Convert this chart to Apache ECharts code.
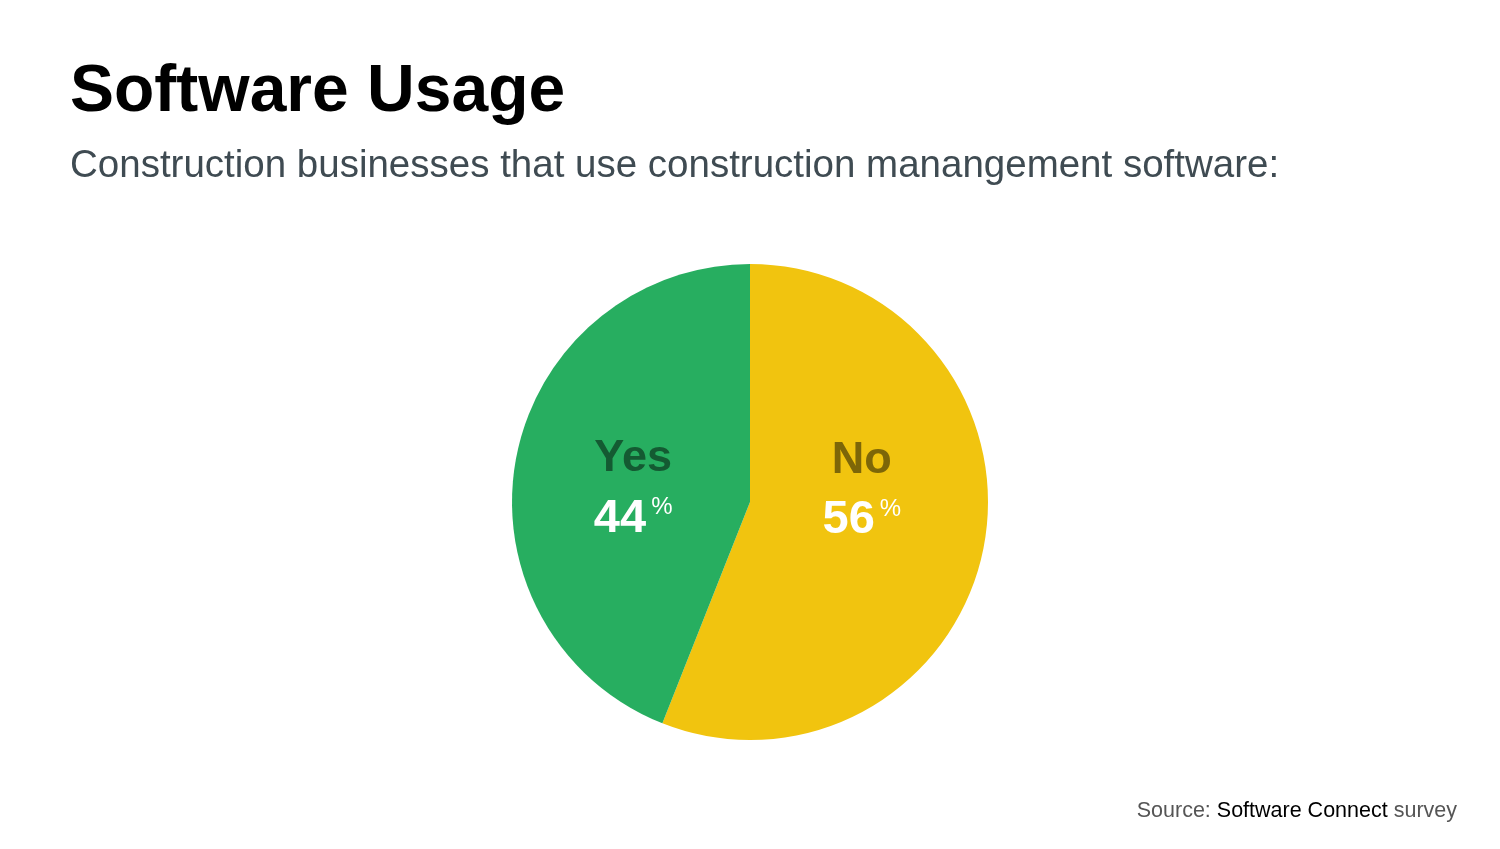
<!DOCTYPE html>
<html>
<head>
<meta charset="utf-8">
<title>Software Usage</title>
<script src="https://cdn.jsdelivr.net/npm/echarts@6/dist/echarts.min.js"></script>
<style>
  html, body { margin: 0; padding: 0; background: #fff; }
  #chart { width: 1500px; height: 849px; }
</style>
</head>
<body>
<div id="chart"></div>
<script>
var categories = ['No', 'Yes'];
var shares = [56, 44];
var sliceColors = ['#F1C40F', '#27AE60'];
var nameColors = ['#7D6608', '#145A32'];

function renderUsageChart(chartID) {
  var chartDom = document.getElementById(chartID);
  var myChart = echarts.init(chartDom);
  var font = '"Liberation Sans", Arial, Helvetica, sans-serif';

  var data = categories.map(function (c, i) {
    return {
      name: c,
      value: shares[i],
      itemStyle: { color: sliceColors[i] },
      label: {
        rich: {
          n: { fontFamily: font, fontSize: 45, fontWeight: 'bold', color: nameColors[i], padding: [0, 0, 14, 0] }
        }
      }
    };
  });

  var option = {
    backgroundColor: '#ffffff',
    title: [
      {
        text: 'Software Usage',
        left: 65,
        top: 55,
        textStyle: { fontFamily: font, fontSize: 66, fontWeight: 'bold', color: '#000' }
      },
      {
        text: 'Construction businesses that use construction manangement software:',
        left: 65,
        top: 142,
        textStyle: { fontFamily: font, fontSize: 38.5, fontWeight: 'normal', color: '#3f4b52' }
      },
      {
        text: '{g|Source: }{b|Software Connect}{g| survey}',
        right: 38,
        top: 795,
        textStyle: {
          fontWeight: 'normal',
          rich: {
            g: { fontFamily: font, fontSize: 21.5, fontWeight: 'normal', color: '#555' },
            b: { fontFamily: font, fontSize: 21.5, fontWeight: 'normal', color: '#000' }
          }
        }
      }
    ],
    series: [
      {
        name: 'Usage',
        type: 'pie',
        center: [750, 502],
        radius: 238,
        startAngle: 90,
        clockwise: true,
        silent: true,
        label: {
          show: true,
          position: 'inside',
          formatter: function (p) {
            return '{n|' + p.name + '}\n{v|' + p.value + '}{p|%}';
          },
          rich: {
            v: { fontFamily: font, fontSize: 47, fontWeight: 'bold', color: '#fff' },
            p: { fontFamily: font, fontSize: 24, color: '#fff', padding: [0, 0, 22, 5] }
          }
        },
        labelLayout: function (params) {
          return params.dataIndex === 0 ? { dx: -8, dy: -34 } : { dx: 3, dy: 10 };
        },
        labelLine: { show: false },
        data: data
      }
    ]
  };

  option && myChart.setOption(option);
}

renderUsageChart('chart');
</script>
</body>
</html>
